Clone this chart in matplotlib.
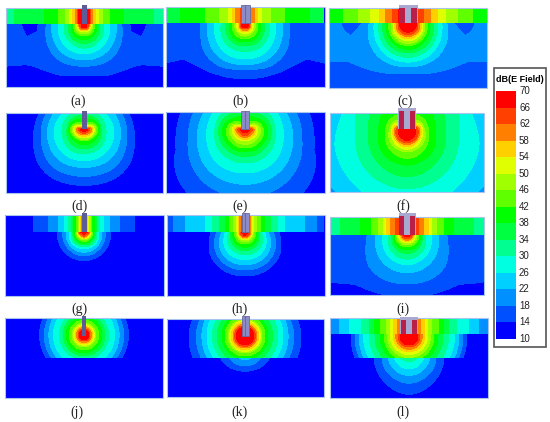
import numpy as np
import matplotlib
matplotlib.use("Agg")
import matplotlib.pyplot as plt
from matplotlib.patches import Rectangle

# colour scale, dB(E Field)
levels = [10, 14, 18, 22, 26, 30, 34, 38, 42, 46, 50, 54, 58, 62, 66, 70]
band_colors = ["#0000ff", "#0050ff", "#0090ff", "#00d0ff", "#00ffe0", "#00ff90", "#00ff40", "#00ff00",
               "#60ff00", "#a0ff00", "#e0ff00", "#ffd000", "#ff8000", "#ff4000", "#ff0000"]

# grid the values below were read on (px from the source / px from the pin)
radii = [0, 4, 8, 12, 17, 23, 30, 38, 47, 58, 72, 110]
half_angles = [0, 35, 65, 90]
full_angles = [0, 45, 90, 135, 180]
strip_dx = [0, 5, 8, 12, 16, 20, 26, 33, 40, 50, 60, 70, 79]

a_strip = [70, 68, 60, 54, 49, 45, 42, 40, 38, 37, 36, 34, 31]
a_sub = [[70, 70, 70, 70], [66, 66, 64, 62], [50, 50, 48, 46], [42, 42, 40, 38], [36, 36, 34, 32], [31, 30, 28.5, 27],
         [26, 25.5, 24.5, 23.5], [20.5, 21, 19.5, 17.5], [14.5, 17, 15.5, 13], [12, 14.3, 15, 13], [11, 12, 15, 15.5],
         [10, 10, 14, 16]]
b_strip = [70, 62, 60, 55, 51, 48, 46, 44, 42, 40, 39, 37, 35]
b_sub = [[70, 70, 70, 70], [68, 68, 66, 64], [56, 56, 52, 50], [48, 46, 44, 42], [40, 40, 38, 36], [34, 34, 32, 30],
         [29, 29, 27.5, 26], [25, 25, 23, 21.5], [17, 20, 18.5, 16], [12.5, 14.5, 15, 14], [11, 12, 14.5, 15.5],
         [10, 10.5, 14, 16.5]]
c_strip = [70, 70, 68, 64, 62, 60, 56, 52, 49, 46, 43, 41, 39]
c_sub = [[70, 70, 70, 70], [70, 70, 70, 70], [68, 68, 68, 66], [62, 60, 60, 56], [52, 50, 48, 44], [42, 40, 38, 36],
         [34, 33, 31, 29], [27, 26.5, 24.5, 22], [19, 21, 20, 17.5], [13.9, 18.5, 19.5, 16.5], [12, 15.5, 19, 18.5],
         [11, 13, 18.2, 19]]
d_all = [[70, 70, 70, 62, 50], [62, 64, 66, 50, 44], [52, 54, 58, 42, 40], [42, 42, 46, 38, 36], [37, 36, 34, 32, 30],
         [31, 31, 29, 28, 26], [27, 27, 26, 23, 22], [22, 23, 21, 18.5, 18], [18, 19, 15, 13, 12], [13, 14.5, 10, 10, 10],
         [10, 10, 10, 10, 10], [10, 10, 10, 10, 10]]
e_all = [[70, 70, 70, 62, 52], [66, 66, 68, 46, 46], [60, 58, 62, 42, 42], [50, 50, 52, 40, 38], [44, 44, 44, 36, 36],
         [38, 38, 38, 32, 32], [32, 32, 30, 28, 28], [28, 28, 26, 24, 24], [25, 25, 22, 19, 19], [21, 21, 17, 15, 15],
         [17, 16.5, 12.5, 12, 12], [10, 10, 10, 10, 10]]
f_all = [[70, 70, 70, 66, 56], [70, 70, 70, 50, 50], [68, 68, 68, 46, 46], [66, 64, 60, 44, 44], [56, 52, 46, 42, 42],
         [46, 44, 40, 40, 40], [42, 40, 37, 38, 38], [37, 36, 34, 35, 35], [34.5, 33, 31, 33, 33], [30.5, 30, 28, 30, 30],
         [27, 27, 26, 20, 26], [22, 18, 22, 15, 20]]
g_strip = [70, 50, 42, 36, 30, 26, 22, 19, 16.5, 14.5, 10, 10, 10]
g_sub = [[70, 70, 70, 70], [64, 60, 62, 66], [46, 44, 44, 44], [36, 35, 34, 30], [26, 25, 24, 22], [19, 18, 17, 16],
         [13, 12.5, 12, 12], [11, 10.5, 10, 10], [10, 10, 10, 10], [10, 10, 10, 10], [10, 10, 10, 10], [10, 10, 10, 10]]
h_strip = [70, 60, 52, 46, 42, 38, 34, 30, 26, 24, 22, 19, 15]
h_sub = [[70, 70, 70, 70], [66, 64, 64, 66], [50, 48, 48, 48], [42, 42, 40, 38], [36, 35, 33, 28], [30, 29, 27, 21],
         [24, 24, 21, 16], [18, 18, 15, 10.5], [12, 12, 10.5, 10], [10, 10, 10, 10], [10, 10, 10, 10], [10, 10, 10, 10]]
i_strip = [70, 68, 66, 62, 59, 56, 48, 44, 40, 37, 36, 33, 31]
i_sub = [[70, 70, 70, 70], [62, 62, 64, 66], [50, 50, 50, 52], [42, 42, 41, 42], [35, 35, 33, 30], [31, 30, 28, 26.5],
         [26, 25, 23.5, 22.5], [22, 21.5, 20.5, 18.5], [18.5, 19, 18, 14], [14.5, 16, 16, 13.5], [10.5, 13, 15.5, 15.5],
         [10, 10, 14, 16]]
j_top = [[70, 70, 70, 70, 70], [68, 68, 68, 68, 68], [56, 56, 56, 56, 56], [46, 46, 46, 46, 46], [39, 39, 39, 39, 39],
         [31, 31, 31, 31, 31], [26.5, 26.5, 26.5, 26.5, 26.5], [19.5, 19.5, 19.5, 19, 19], [11, 11, 12, 10.5, 10],
         [10, 10, 10, 10, 10], [10, 10, 10, 10, 10], [10, 10, 10, 10, 10]]
k_top = [[70, 70, 70, 70, 70], [70, 70, 70, 70, 70], [68, 68, 68, 68, 68], [58, 58, 58, 58, 58], [46, 46, 46, 46, 46],
         [38, 38, 38, 38, 38], [32, 32, 32, 32, 32], [26, 26, 26, 26, 26], [19, 19, 19, 18, 18], [13, 13, 13, 11, 11],
         [10, 10, 10, 10, 10], [10, 10, 10, 10, 10]]
k_low = [[26, 26, 26, 26], [26, 26, 26, 26], [26, 26, 26, 26], [26, 26, 26, 26], [26, 26, 26, 26], [23, 20, 15, 12],
         [18, 17, 13, 10.5], [12, 12, 10.5, 10], [10, 10, 10, 10], [10, 10, 10, 10], [10, 10, 10, 10], [10, 10, 10, 10]]
l_strip = [70, 66, 62, 58, 54, 48, 44, 40, 34, 29, 26, 22, 19]
l_mid = [[70, 70, 70, 70, 70], [70, 70, 70, 70, 70], [68, 68, 68, 68, 68], [60, 60, 60, 60, 60], [52, 52, 52, 52, 52],
         [44, 44, 44, 44, 44], [36, 37, 37, 36, 36], [31, 31, 31, 31, 31], [25, 25, 25, 25, 25], [14, 14, 14, 14, 14],
         [10, 10, 10, 10, 10], [10, 10, 10, 10, 10]]
l_low = [[36, 36, 30, 28], [36, 36, 30, 28], [36, 36, 30, 28], [36, 36, 30, 28], [36, 36, 30, 28], [32, 29, 21, 16],
         [29, 24, 17, 12], [23.5, 20, 13, 10], [19, 15, 11, 10], [15, 11, 10, 10], [11, 10, 10, 10], [10, 10, 10, 10]]

captions = ["(a)", "(b)", "(c)", "(d)", "(e)", "(f)", "(g)", "(h)", "(i)", "(j)", "(k)", "(l)"]
cbar_labels = ["70", "66", "62", "58", "54", "50", "46", "42", "38", "34", "30", "26", "22", "18", "14", "10"]


def draw_polar(ax, cx, cy, angles, values, clip):
    # mirror the right half onto the left, round the corners between the read angles
    vals = np.array(values, dtype=float)
    ang = np.array(angles, dtype=float)
    ang = np.concatenate([-ang[:0:-1], ang])
    vals = np.hstack([vals[:, :0:-1], vals])
    fine = np.arange(ang[0], ang[-1] + 1, 3.0)
    win = np.ones(11) / 11
    smooth = []
    for row in vals:
        z = np.interp(fine, ang, row)
        smooth.append(np.convolve(np.pad(z, 5, mode="edge"), win, mode="valid"))
    # rounding in the average can push 70 just over the top level and leave a hole
    zz = np.clip(np.array(smooth), 10.01, 69.99)
    rr, tt = np.meshgrid(radii, np.radians(fine), indexing="ij")
    cs = ax.contourf(cx + rr * np.sin(tt), cy + rr * np.cos(tt), zz, levels=levels, colors=band_colors)
    cs.set_clip_path(Rectangle((clip[0], clip[2]), clip[1] - clip[0], clip[3] - clip[2], transform=ax.transData))


def draw_strip(ax, cx, values, clip):
    dx = np.array(strip_dx, dtype=float)
    xs = np.concatenate([cx - dx[:0:-1], cx + dx])
    row = np.concatenate([np.array(values[:0:-1], dtype=float), np.array(values, dtype=float)])
    cs = ax.contourf(xs, [clip[2], clip[3]], np.vstack([row, row]), levels=levels, colors=band_colors)
    cs.set_clip_path(Rectangle((clip[0], clip[2]), clip[1] - clip[0], clip[3] - clip[2], transform=ax.transData))


def draw_pin(ax, cx, top, bottom, width, kind):
    if kind == "thin":
        ax.add_patch(Rectangle((cx - width / 2, top), width, bottom - top, fc="#5c5c98", ec="none", zorder=5))
    elif kind == "mid":
        ax.add_patch(Rectangle((cx - width / 2, top), width, bottom - top, fc="#8c8cc8", ec="#6a6aa0", lw=0.6, zorder=5))
        ax.plot([cx, cx], [top, bottom], color="#6a6aa0", lw=0.8, zorder=6)
    else:
        ax.add_patch(Rectangle((cx - width / 2, top), width, bottom - top, fc="#a8a8d0", ec="none", zorder=5))
        for side in (-1, 1):
            x0 = cx + side * width * 0.3 - width * 0.15
            ax.add_patch(Rectangle((x0, top + 3), width * 0.3, bottom - top - 3, fc="#b8204a", ec="none", zorder=6))


fig = plt.figure(figsize=(5.5, 4.22), dpi=100)
ax = fig.add_axes([0, 0, 1, 1])
ax.set_xlim(0, 550)
ax.set_ylim(422, 0)
ax.axis("off")

# left, right, top, bottom, layer interface, pin x, pin top, pin width, pin kind, caption x, caption y
panels = [
    (6, 163, 8, 87, 24, 84, 5, 5, "thin", 78, 101),
    (166, 325, 7, 87, 23, 245, 5, 9, "mid", 240, 101),
    (329, 487, 8, 88, 23, 408, 5, 19, "wide", 405, 101),
    (6, 163, 113, 193, 129, 84, 111, 5, "thin", 79, 206),
    (166, 325, 112, 193, 129, 245, 111, 8, "mid", 240, 206),
    (330, 484, 113, 192, 129, 407, 108, 18, "wide", 403, 206),
    (5, 164, 215, 296, 232, 84, 213, 5, "thin", 79, 309),
    (167, 325, 215, 296, 232, 245, 213, 7, "mid", 240, 309),
    (330, 484, 217, 295, 235, 407, 213, 17, "wide", 403, 309),
    (5, 163, 318, 398, 358, 84, 316, 4, "thin", 77, 412),
    (167, 324, 319, 397, 358, 245, 316, 7, "mid", 239, 412),
    (330, 488, 318, 398, 358, 409, 317, 18, "wide", 403, 412),
]

for n, p in enumerate(panels):
    left, right, top, bottom, iface, cx, pin_top, pin_w, pin_kind, cap_x, cap_y = p
    ax.add_patch(Rectangle((left, top), right - left, bottom - top, fc="#0000ff", ec="none", zorder=0))
    upper = (left, right, top, iface)
    lower = (left, right, iface, bottom)
    whole = (left, right, top, bottom)
    if n in (0, 1, 2, 6, 7, 8):
        strip = [a_strip, b_strip, c_strip, None, None, None, g_strip, h_strip, i_strip][n]
        sub = [a_sub, b_sub, c_sub, None, None, None, g_sub, h_sub, i_sub][n]
        draw_strip(ax, cx, strip, upper)
        draw_polar(ax, cx, iface, half_angles, sub, lower)
        pin_bottom = iface
    elif n in (3, 4, 5):
        draw_polar(ax, cx, iface, full_angles, [d_all, e_all, f_all][n - 3], whole)
        pin_bottom = iface
    elif n == 9:
        draw_polar(ax, cx, 335, full_angles, j_top, upper)
        pin_bottom = 336
    elif n == 10:
        draw_polar(ax, cx, 336, full_angles, k_top, upper)
        draw_polar(ax, cx, 336, half_angles, k_low, lower)
        pin_bottom = 336
    else:
        draw_strip(ax, cx, l_strip, (left, right, top, 334))
        draw_polar(ax, cx, 336, full_angles, l_mid, (left, right, 334, iface))
        draw_polar(ax, cx, 336, half_angles, l_low, lower)
        pin_bottom = 334
    ax.add_patch(Rectangle((left, top), right - left, bottom - top, fc="none", ec="#a8c4ec", lw=0.8, zorder=4))
    draw_pin(ax, cx, pin_top, pin_bottom, pin_w, pin_kind)
    ax.text(cap_x, cap_y, captions[n], family="Liberation Serif", fontsize=10, ha="center", va="center", color="#222222")

# legend box on the right
ax.add_patch(Rectangle((494, 68), 52, 279, fc="white", ec="#555555", lw=1.2, zorder=1))
ax.text(520, 79, "dB(E Field)", family="Liberation Sans", fontsize=6.5, fontweight="bold", ha="center", va="center")
step = (339 - 91) / len(band_colors)
for k, col in enumerate(band_colors[::-1]):
    ax.add_patch(Rectangle((496, 91 + k * step), 20, step + 0.3, fc=col, ec="none", zorder=2))
for k, lab in enumerate(cbar_labels):
    ax.text(519, 91 + k * step, lab, family="Liberation Sans", fontsize=7, ha="left", va="center", color="#222222")

fig.savefig("out.png", dpi=100)
